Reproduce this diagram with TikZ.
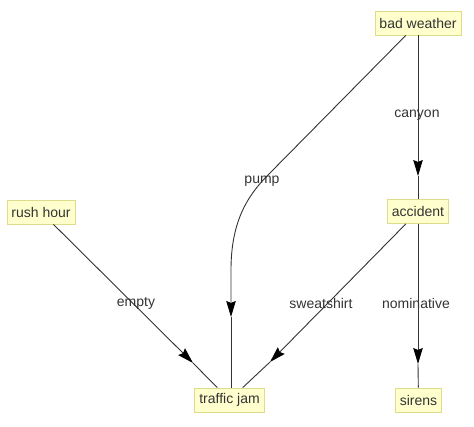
\documentclass[tikz,border=0pt]{standalone}
\usepackage{fontspec}
\setmainfont{Liberation Sans}
\usetikzlibrary{arrows.meta}
\definecolor{boxfill}{HTML}{FFFFCE}
\definecolor{boxline}{HTML}{DCDC8C}
\definecolor{ink}{HTML}{333333}
\begin{document}
\begin{tikzpicture}[x=1pt,y=-1pt,
  box/.style={draw=boxline,fill=boxfill,line width=0.8pt,minimum height=24pt,inner xsep=4.5pt,inner ysep=0pt,font=\fontsize{14}{16}\selectfont,text=ink},
  edge/.style={draw=ink,line width=0.9pt},
  arr/.style={edge,-{Stealth[length=16pt,width=9.5pt,inset=2pt,color=black]}},
  lbl/.style={font=\fontsize{14}{16}\selectfont,text=ink}]
\useasboundingbox (0,0) rectangle (474,426);
\node[box] (bw) at (418,23) {bad weather};
\node[box] (rh) at (41,212) {rush hour};
\node[box] (ac) at (418,211.5) {accident};
\node[box] (tj) at (229.5,400) {traffic jam};
\node[box] (si) at (418.5,400) {sirens};
% arrow tips
\coordinate (t1) at (418,176);
\coordinate (t2) at (418,364);
\coordinate (t3) at (193,363);
\coordinate (t4) at (270,362);
\coordinate (t5) at (231,317);
\coordinate (pa) at (268,175);
% bad weather -> accident
\draw[arr] (bw) -- (t1);
\draw[edge] (t1) -- (ac);
% accident -> sirens
\draw[arr] (ac) -- (t2);
\draw[edge] (t2) -- (si);
% rush hour -> traffic jam
\draw[arr] (rh) -- (t3);
\draw[edge] (t3) -- (tj);
% accident -> traffic jam
\draw[arr] (ac) -- (t4);
\draw[edge] (t4) -- (tj);
% bad weather -> traffic jam (curved)
\draw[arr] (bw) -- (pa) .. controls (245,198) and (231,225) .. (231,270) -- (t5);
\draw[edge] (t5) -- (t5 |- tj.north);
% labels
\node[lbl] (l1) at (417,115) {canyon};
\node[lbl] (l2) at (262,181) {pump};
\node[lbl] (l3) at (136,303) {empty};
\node[lbl] (l4) at (321,303) {sweatshirt};
\node[lbl] (l5) at (416,303) {nominative};
\end{tikzpicture}
\end{document}
